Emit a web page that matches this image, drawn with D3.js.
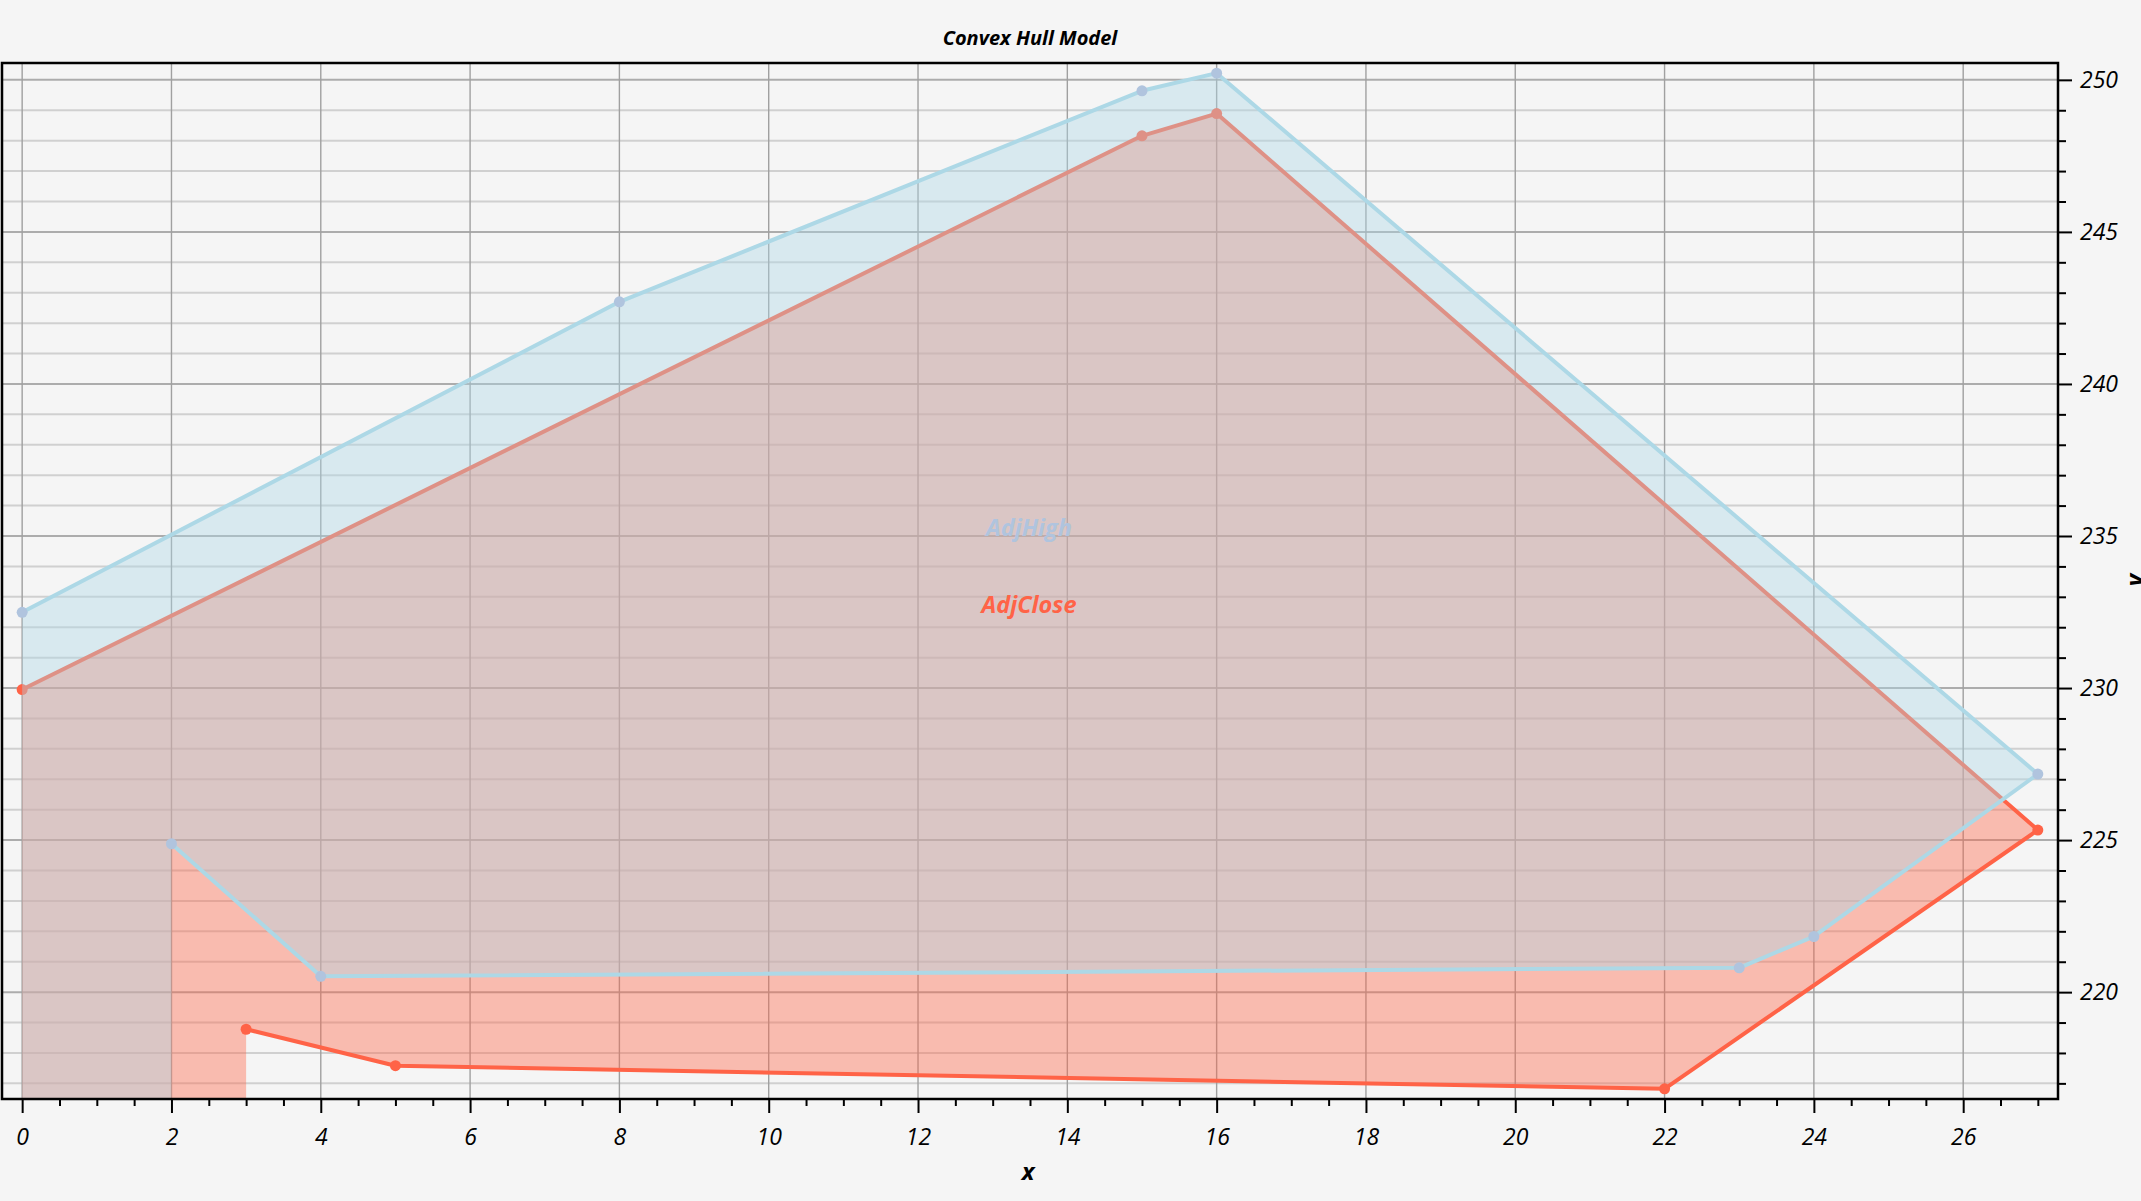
<!DOCTYPE html>
<html>
<head>
<meta charset="utf-8">
<script src="https://cdn.jsdelivr.net/npm/d3@7"></script>
<style>
  html, body { margin: 0; padding: 0; background: #f5f5f5; overflow: hidden; }
  svg { display: block; }
  text { font-family: "Open Sans", "Noto Sans", sans-serif; }
</style>
</head>
<body>
<svg id="chart" width="2141" height="1201"></svg>
<script>
// ---- data (hull vertices, in plotting order) ----
const highX = [0, 8, 15, 16, 27, 24, 23, 4, 2];
const highY = [232.49, 242.70, 249.64, 250.22, 227.17, 221.83, 220.80, 220.52, 224.88];
const closeX = [0, 15, 16, 27, 22, 5, 3];
const closeY = [229.95, 248.16, 248.89, 225.33, 216.82, 217.58, 218.78];
const seriesNames = ["AdjHigh", "AdjClose"];
const xTicks = [0, 2, 4, 6, 8, 10, 12, 14, 16, 18, 20, 22, 24, 26];
const yTicks = [220, 225, 230, 235, 240, 245, 250];
const titleText = "Convex Hull Model";

const W = 2141, H = 1201;
const plot = { left: 2, right: 2058, top: 63, bottom: 1099 };

const svg = d3.select("#chart");
svg.append("rect").attr("width", W).attr("height", H).attr("fill", "#f5f5f5");

const allX = highX.concat(closeX), allY = highY.concat(closeY);
const xMin = d3.min(allX), xMax = d3.max(allX);
const yMin = d3.min(allY), yMax = d3.max(allY);
const xm = (xMax - xMin) * 0.01, ym = (yMax - yMin) * 0.01;
const x = d3.scaleLinear().domain([xMin - xm, xMax + xm]).range([plot.left, plot.right]);
const y = d3.scaleLinear().domain([yMin - ym, yMax + ym]).range([plot.bottom, plot.top]);

// clip
svg.append("defs").append("clipPath").attr("id", "clip")
  .append("rect").attr("x", plot.left).attr("y", plot.top)
  .attr("width", plot.right - plot.left).attr("height", plot.bottom - plot.top);

// ---- grid ----
const grid = svg.append("g").attr("clip-path", "url(#clip)");
const yMinor = d3.range(Math.ceil(y.domain()[0]), Math.floor(y.domain()[1]) + 1).filter(v => v % 5 !== 0);
grid.selectAll(".gyminor").data(yMinor).enter().append("line")
  .attr("x1", plot.left).attr("x2", plot.right)
  .attr("y1", d => y(d)).attr("y2", d => y(d))
  .attr("stroke", "#d0d0d0").attr("stroke-width", 2);
grid.selectAll(".gymajor").data(yTicks).enter().append("line")
  .attr("x1", plot.left).attr("x2", plot.right)
  .attr("y1", d => y(d)).attr("y2", d => y(d))
  .attr("stroke", "#acacac").attr("stroke-width", 2);
grid.selectAll(".gx").data(xTicks).enter().append("line")
  .attr("y1", plot.top).attr("y2", plot.bottom)
  .attr("x1", d => x(d)).attr("x2", d => x(d))
  .attr("stroke", "#a0a0a0").attr("stroke-width", 1.4);

// ---- series ----
const base = y.domain()[0];
function drawSeries(xs, ys, lineColor, markerColor, fillColor) {
  const pts = xs.map((d, i) => [d, ys[i]]);
  const g = svg.append("g").attr("clip-path", "url(#clip)");
  const area = d3.area().x(d => x(d[0])).y0(y(base)).y1(d => y(d[1]));
  g.append("path").attr("d", area(pts))
    .attr("fill", fillColor).attr("fill-opacity", 0.4).attr("fill-rule", "evenodd");
  const line = d3.line().x(d => x(d[0])).y(d => y(d[1]));
  g.append("path").attr("d", line(pts)).attr("fill", "none")
    .attr("stroke", lineColor).attr("stroke-width", 4).attr("stroke-linejoin", "round");
  g.selectAll("circle").data(pts).enter().append("circle")
    .attr("cx", d => x(d[0])).attr("cy", d => y(d[1])).attr("r", 5.5)
    .attr("fill", markerColor);
}
drawSeries(closeX, closeY, "#ff6347", "#ff6347", "#ff6347");
drawSeries(highX, highY, "#add8e6", "#b0c4de", "#add8e6");

// ---- spines ----
svg.append("rect").attr("x", plot.left).attr("y", plot.top)
  .attr("width", plot.right - plot.left).attr("height", plot.bottom - plot.top)
  .attr("fill", "none").attr("stroke", "#000").attr("stroke-width", 2.5);

// ---- x axis ----
const xAxis = d3.axisBottom(x).tickValues(xTicks).tickSize(14).tickPadding(16).tickFormat(d3.format("d"));
const gx = svg.append("g").attr("transform", `translate(0,${plot.bottom})`).call(xAxis);
gx.select(".domain").remove();
gx.selectAll(".tick line").attr("stroke", "#000").attr("stroke-width", 2);
gx.selectAll(".tick text").attr("font-size", 23).attr("font-style", "italic").attr("fill", "#000")
  .attr("font-family", "'Open Sans', sans-serif");
const xMinorVals = d3.range(0, xMax + 0.3, 0.5).filter(v => v % 2 !== 0);
const gxm = svg.append("g").attr("transform", `translate(0,${plot.bottom})`)
  .call(d3.axisBottom(x).tickValues(xMinorVals).tickSize(7).tickFormat(""));
gxm.select(".domain").remove();
gxm.selectAll(".tick line").attr("stroke", "#000").attr("stroke-width", 2);

// ---- y axis (right) ----
const yAxis = d3.axisRight(y).tickValues(yTicks).tickSize(14).tickPadding(8).tickFormat(d3.format("d"));
const gy = svg.append("g").attr("transform", `translate(${plot.right},0)`).call(yAxis);
gy.select(".domain").remove();
gy.selectAll(".tick line").attr("stroke", "#000").attr("stroke-width", 2);
gy.selectAll(".tick text").attr("font-size", 23).attr("font-style", "italic").attr("fill", "#000")
  .attr("font-family", "'Open Sans', sans-serif");
const gym = svg.append("g").attr("transform", `translate(${plot.right},0)`)
  .call(d3.axisRight(y).tickValues(yMinor).tickSize(8).tickFormat(""));
gym.select(".domain").remove();
gym.selectAll(".tick line").attr("stroke", "#000").attr("stroke-width", 2);

// ---- labels ----
svg.append("text").attr("x", 1030).attr("y", 45).attr("text-anchor", "middle")
  .attr("font-size", 20).attr("font-weight", "bold").attr("font-style", "italic")
  .attr("fill", "#000").text(titleText);
svg.append("text").attr("x", 1028).attr("y", 1180).attr("text-anchor", "middle")
  .attr("font-size", 24).attr("font-weight", "bold").attr("font-style", "italic")
  .attr("fill", "#000").text("x");
svg.append("text").attr("transform", "translate(2143,580) rotate(-90)").attr("text-anchor", "middle")
  .attr("font-size", 24).attr("font-weight", "bold").attr("font-style", "italic")
  .attr("fill", "#000").text("y");

// ---- legend (centered labels) ----
const legendColors = ["#b0c4de", "#ff6347"];
svg.selectAll(".leg").data(seriesNames).enter().append("text")
  .attr("x", 1029).attr("y", (d, i) => 536 + i * 77)
  .attr("text-anchor", "middle").attr("font-size", 23.5)
  .attr("font-weight", "bold").attr("font-style", "italic")
  .attr("fill", (d, i) => legendColors[i]).text(d => d);
</script>
</body>
</html>
